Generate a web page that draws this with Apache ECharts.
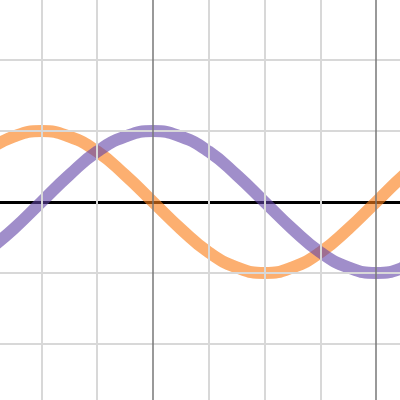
<!DOCTYPE html>
<html>
<head>
<meta charset="utf-8">
<script src="https://cdn.jsdelivr.net/npm/echarts@6/dist/echarts.min.js"></script>
<style>html,body{margin:0;padding:0;background:#fff}#main{width:400px;height:400px}</style>
</head>
<body>
<div id="main"></div>
<script>
// x positions in grid units
var xs = [-3, -2.5, -2, -1.5, -1, -0.5, 0, 0.5, 1, 1.5, 2, 2.5, 3, 3.5, 4, 4.5, 5];
var purple = [-0.71, -0.38, 0, 0.38, 0.71, 0.92, 1, 0.92, 0.71, 0.38, 0, -0.38, -0.71, -0.92, -1, -0.92, -0.71];
var orange = [0.71, 0.92, 1, 0.92, 0.71, 0.38, 0, -0.38, -0.71, -0.92, -1, -0.92, -0.71, -0.38, 0, 0.38, 0.71];
var gridX = [-2, -1, 1, 2, 3];
var gridY = [-2, -1, 1, 2];
var darkLines = [0, 4];

function pairs(ys) {
  return xs.map(function (x, i) { return [x, ys[i]]; });
}

var myChart = echarts.init(document.getElementById('main'));
var option = {
  animation: false,
  grid: { left: 0, top: 0, right: 0, bottom: 0 },
  xAxis: {
    type: 'value', min: -2.742, max: 4.427,
    axisLabel: { show: false }, axisTick: { show: false },
    axisLine: { show: true, onZero: true, lineStyle: { color: '#000', width: 3 } },
    splitLine: { show: false }
  },
  yAxis: {
    type: 'value', min: -2.79, max: 2.845,
    axisLabel: { show: false }, axisTick: { show: false },
    axisLine: { show: false },
    splitLine: { show: false }
  },
  series: [
    {
      name: 'grid', type: 'line', data: [], silent: true,
      markLine: {
        silent: true, symbol: 'none', label: { show: false },
        lineStyle: { color: '#d8d8d8', width: 2, type: 'solid' },
        data: gridX.map(function (v) { return { xAxis: v }; })
          .concat(gridY.map(function (v) { return { yAxis: v }; }))
      },
      z: 1
    },
    {
      name: 'orange', type: 'line', smooth: true, showSymbol: false,
      data: pairs(orange),
      lineStyle: { color: '#fa7e19', width: 12, opacity: 0.62 },
      markLine: {
        silent: true, symbol: 'none', label: { show: false },
        lineStyle: { color: '#777', width: 1.5, type: 'solid' },
        data: darkLines.map(function (v) { return { xAxis: v }; })
      },
      z: 3
    },
    {
      name: 'purple', type: 'line', smooth: true, showSymbol: false,
      data: pairs(purple),
      lineStyle: { color: '#6042a6', width: 12, opacity: 0.6 },
      z: 4
    }
  ]
};
myChart.setOption(option);
</script>
</body>
</html>
